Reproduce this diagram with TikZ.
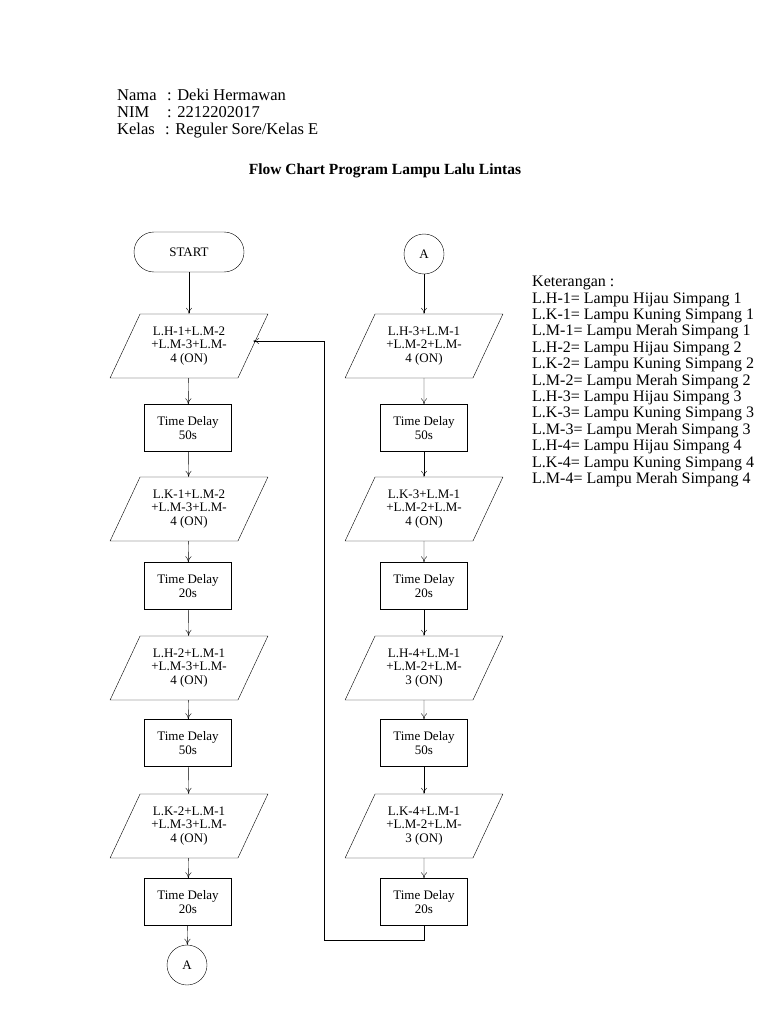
\documentclass[tikz,border=0pt]{standalone}
\usepackage{fontspec}
\setmainfont{Liberation Serif}
\usetikzlibrary{shapes.geometric,arrows.meta}
\begin{document}
\begin{tikzpicture}[x=1pt,y=-1pt,
 every node/.style={font=\fontsize{13}{13.5}\selectfont},
 para/.style={draw,trapezium,trapezium left angle=59,trapezium right angle=121,trapezium stretches=true,minimum width=158,minimum height=64,align=center,inner sep=0pt},
 td/.style={draw,rectangle,minimum width=87,minimum height=47,align=center,inner sep=0pt},
 con/.style={draw,circle,minimum size=40,inner sep=0pt},
 arr/.style={-{To[length=6pt,width=6pt]},thin},
 hdr/.style={font=\fontsize{16.5}{17}\selectfont,anchor=base west,inner sep=0pt}]
\useasboundingbox (0,0) rectangle (768,1024);
\node[hdr] at (117,101) (h1) {Nama};
\node[hdr] at (167,101) (h1b) {: Deki Hermawan};
\node[hdr] at (117,118) (h2) {NIM};
\node[hdr] at (167,118) (h2b) {: 2212202017};
\node[hdr] at (117,135) (h3) {Kelas};
\node[hdr] at (165,135) (h3b) {: Reguler Sore/Kelas E};
\node[font=\fontsize{15.5}{17}\selectfont\bfseries] at (385,171) (title) {Flow Chart Program Lampu Lalu Lintas};
\node[anchor=north west,align=left,inner sep=0pt,font=\fontsize{16}{16.4}\selectfont] at (532,276) (ket) {Keterangan :\\
L.H-1= Lampu Hijau Simpang 1\\
L.K-1= Lampu Kuning Simpang 1\\
L.M-1= Lampu Merah Simpang 1\\
L.H-2= Lampu Hijau Simpang 2\\
L.K-2= Lampu Kuning Simpang 2\\
L.M-2= Lampu Merah Simpang 2\\
L.H-3= Lampu Hijau Simpang 3\\
L.K-3= Lampu Kuning Simpang 3\\
L.M-3= Lampu Merah Simpang 3\\
L.H-4= Lampu Hijau Simpang 4\\
L.K-4= Lampu Kuning Simpang 4\\
L.M-4= Lampu Merah Simpang 4};
% left column
\node[draw,rounded corners=20pt,minimum width=110,minimum height=40] (start) at (189,252) {START};
\node[para] (l1) at (189,346) {L.H-1+L.M-2\\+L.M-3+L.M-\\4 (ON)};
\node[td] (l2) at (188,428) {Time Delay\\50s};
\node[para] (l3) at (189,509) {L.K-1+L.M-2\\+L.M-3+L.M-\\4 (ON)};
\node[td] (l4) at (188,586) {Time Delay\\20s};
\node[para] (l5) at (189,668) {L.H-2+L.M-1\\+L.M-3+L.M-\\4 (ON)};
\node[td] (l6) at (188,743) {Time Delay\\50s};
\node[para] (l7) at (189,826) {L.K-2+L.M-1\\+L.M-3+L.M-\\4 (ON)};
\node[td] (l8) at (188,902) {Time Delay\\20s};
\node[con] (ca) at (187,965) {A};
% right column
\node[con] (cb) at (424,254) {A};
\node[para] (r1) at (424,346) {L.H-3+L.M-1\\+L.M-2+L.M-\\4 (ON)};
\node[td] (r2) at (424,428) {Time Delay\\50s};
\node[para] (r3) at (424,509) {L.K-3+L.M-1\\+L.M-2+L.M-\\4 (ON)};
\node[td] (r4) at (424,586) {Time Delay\\20s};
\node[para] (r5) at (424,668) {L.H-4+L.M-1\\+L.M-2+L.M-\\3 (ON)};
\node[td] (r6) at (424,743) {Time Delay\\50s};
\node[para] (r7) at (424,826) {L.K-4+L.M-1\\+L.M-2+L.M-\\3 (ON)};
\node[td] (r8) at (424,902) {Time Delay\\20s};
\foreach \a/\b in {start/l1,l1/l2,l2/l3,l3/l4,l4/l5,l5/l6,l6/l7,l7/l8,l8/ca,cb/r1,r1/r2,r2/r3,r3/r4,r4/r5,r5/r6,r6/r7,r7/r8}
  \draw[arr] (\a) -- (\b);
\coordinate (k1) at (424,940);
\coordinate (k2) at (324,940);
\coordinate (k3) at (324,341);
\draw[arr] (r8.south) -- (k1) -- (k2) -- (k3) -- (l1.east |- k3);
\end{tikzpicture}
\end{document}
